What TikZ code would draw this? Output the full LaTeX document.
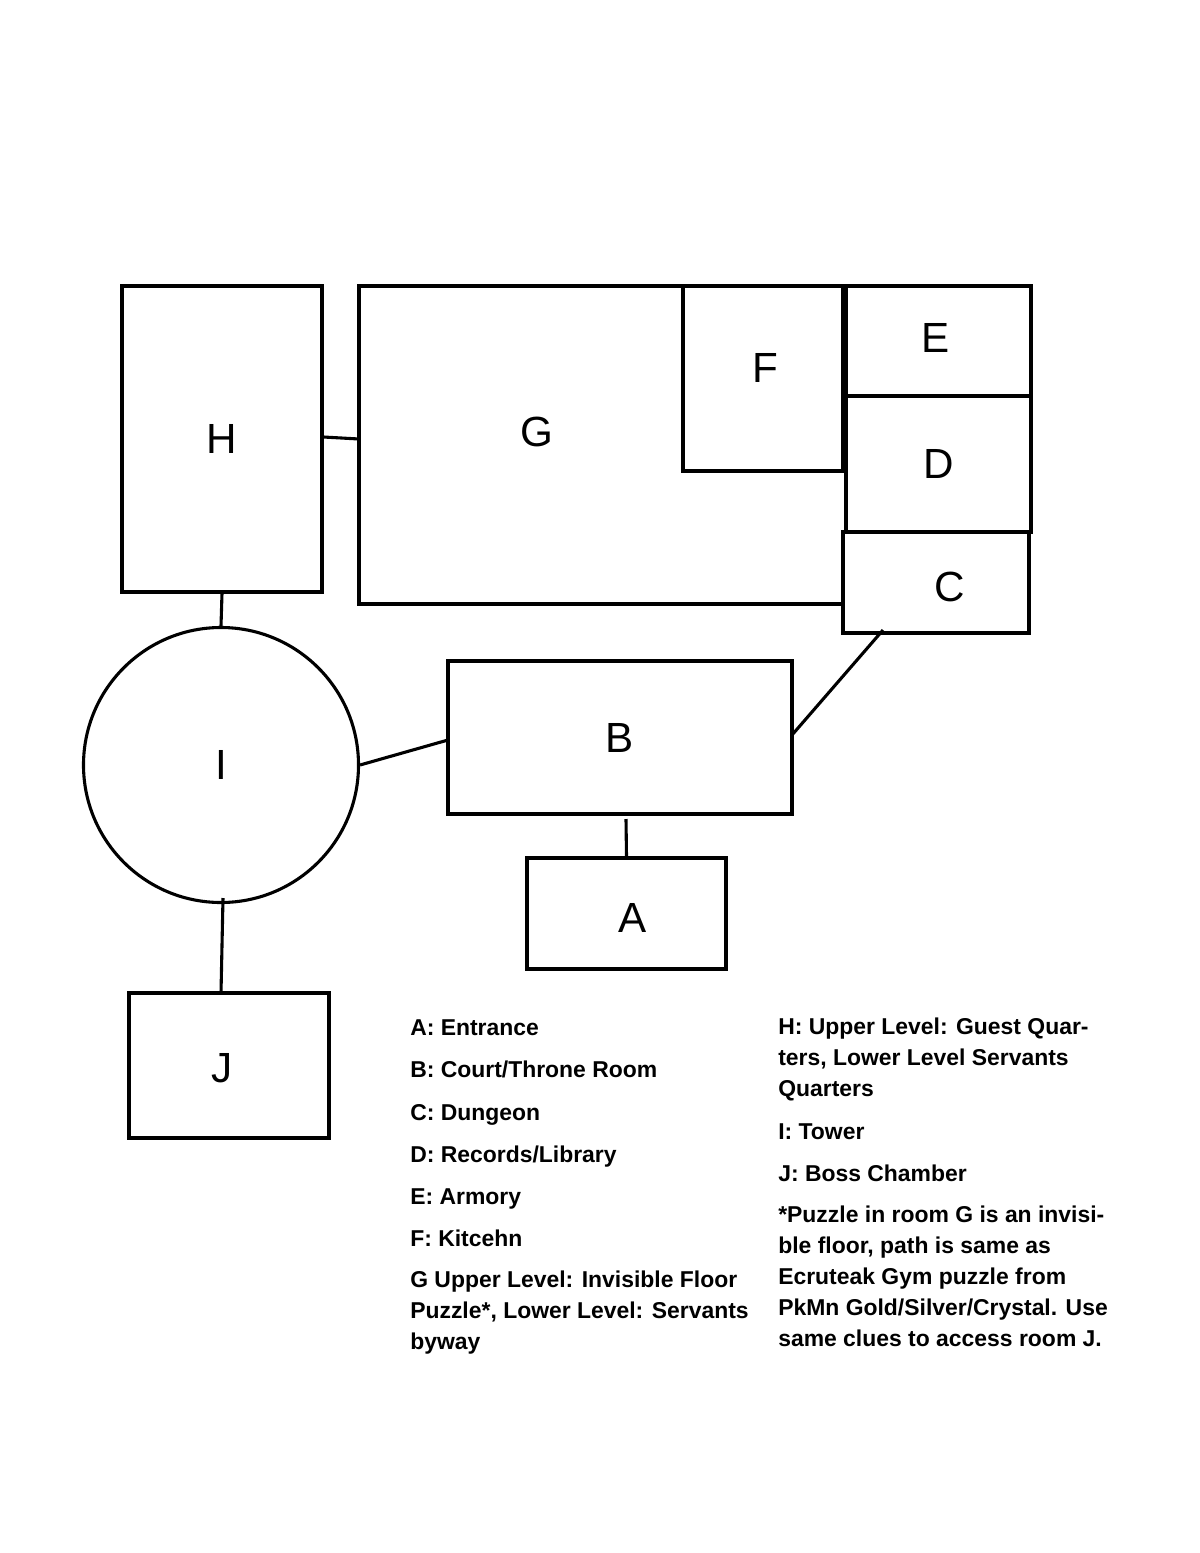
\documentclass[tikz,border=0pt]{standalone}
\usepackage{fontspec}
\setmainfont{Liberation Sans}
\usetikzlibrary{positioning}
\tikzset{
  room/.style={draw, line width=2.2pt, inner sep=0pt, font=\fontsize{30}{30}\selectfont},
  link/.style={draw, line width=2.2pt},
  legend/.style={anchor=base west, align=left, inner sep=0pt,
    font=\fontsize{16.3}{22}\selectfont\bfseries},
  legendblock/.style={legend, anchor=north west}
}
\begin{document}
\begin{tikzpicture}[x=0.025cm, y=-0.025cm]
  \useasboundingbox (0,0) rectangle (1200,1553);
  % rooms
  \node[room, minimum width=200*0.025cm, minimum height=306*0.025cm] (H) at (222,439) {H};
  \draw[line width=2.2pt] (683,286) -- (359,286) -- (359,604) -- (843,604);
  \node[font=\fontsize{30}{30}\selectfont] (G) at (537,432) {G};
  \node[room, minimum width=160*0.025cm, minimum height=185*0.025cm] (F) at (763,378.5) {};
  \node[font=\fontsize{30}{30}\selectfont] at (765,368) {F};
  \node[room, minimum width=185*0.025cm, minimum height=110*0.025cm] (E) at (938.5,341) {};
  \node[font=\fontsize{30}{30}\selectfont] at (936,338) {E};
  \node[room, minimum width=185*0.025cm, minimum height=136*0.025cm] (D) at (938.5,464) {D};
  \node[room, minimum width=186*0.025cm, minimum height=101*0.025cm] (C) at (936,582.5) {};
  \node[font=\fontsize{30}{30}\selectfont] at (950,587) {C};
  \node[room, circle, minimum size=275*0.025cm] (I) at (221,765) {I};
  \node[room, minimum width=344*0.025cm, minimum height=153*0.025cm] (B) at (620,737.5) {B};
  \node[room, minimum width=199*0.025cm, minimum height=111*0.025cm] (A) at (626.5,913.5) {};
  \node[font=\fontsize{30}{30}\selectfont] at (633,918) {A};
  \node[room, minimum width=200*0.025cm, minimum height=145*0.025cm] (J) at (229,1065.5) {};
  \node[font=\fontsize{30}{30}\selectfont] at (222,1068) {J};
  % connectors
  \coordinate (gw) at (359,439);
  \coordinate (ba) at (626,819);
  \coordinate (ct) at (883,630);
  \draw[link] (H.east |- 0,437) -- (gw);
  \draw[link] (H.south) -- (I.north);
  \draw[link] (I.east) -- (448,740);
  \draw[link] (ba) -- (A.north);
  \draw[link] (792,735) -- (ct);
  \draw[link] (223,898) -- (221,993);
  % legend
  \node[legend] (la) at (410,1035) {A: Entrance};
  \node[legend] (lb) at (410,1077) {B: Court/Throne Room};
  \node[legend] (lc) at (410,1120) {C: Dungeon};
  \node[legend] (ld) at (410,1162) {D: Records/Library};
  \node[legend] (le) at (410,1204) {E: Armory};
  \node[legend] (lf) at (410,1246) {F: Kitcehn};
  \node[legendblock] (lg) at (410,1271) {G Upper Level: Invisible Floor\\Puzzle*, Lower Level: Servants\\byway};
  \node[legendblock] (lh) at (778,1018) {H: Upper Level: Guest Quar-\\ters, Lower Level Servants\\Quarters};
  \node[legend] (li) at (778,1139) {I: Tower};
  \node[legend] (lj) at (778,1181) {J: Boss Chamber};
  \node[legendblock] (lp) at (778,1206) {*Puzzle in room G is an invisi-\\ble floor, path is same as\\Ecruteak Gym puzzle from\\PkMn Gold/Silver/Crystal. Use\\same clues to access room J.};
\end{tikzpicture}
\end{document}
